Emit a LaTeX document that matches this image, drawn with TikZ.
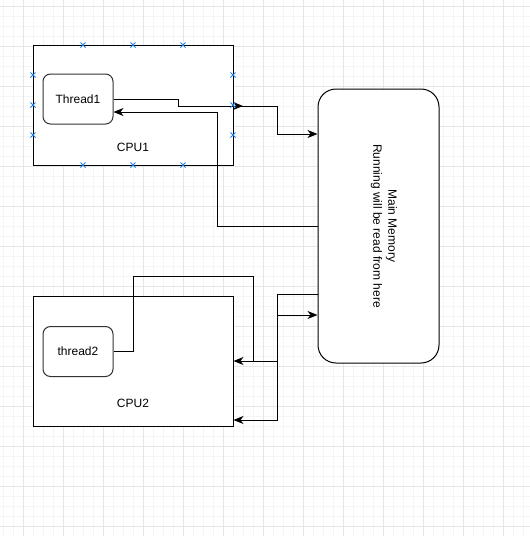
\documentclass[tikz,border=0pt]{standalone}
\usepackage{fontspec}
\setmainfont{Liberation Sans}
\usetikzlibrary{arrows.meta}
\definecolor{gridmajor}{HTML}{E6E6E6}
\definecolor{gridminor}{HTML}{F5F5F5}
\definecolor{markblue}{HTML}{1E7FE6}
\begin{document}
\begin{tikzpicture}[x=1pt,y=-1pt,
  every node/.style={font=\fontsize{12}{15}\selectfont},
  cpubox/.style={draw=black, line width=1pt, fill=white, inner sep=0pt, minimum width=200pt, minimum height=#1},
  thrbox/.style={draw=black!80, line width=1pt, fill=white, rounded corners=7.5pt, inner sep=0pt, minimum width=70pt, minimum height=50pt},
  membox/.style={draw=black, line width=1pt, fill=white, rounded corners=18pt, inner sep=0pt, minimum width=121pt, minimum height=274pt},
  lbl/.style={inner sep=0pt, text=black},
  conn/.style={draw=black, line width=1pt},
  arr/.style={conn, -{Stealth[length=10pt,width=8pt,inset=3pt]}},
  cpmark/.style={draw=markblue, line width=1pt}
]
\useasboundingbox (0,0) rectangle (530,536);
\fill[white] (0,0) rectangle (530,536);
% grid
\foreach \x in {3,13,...,523} \draw[gridminor, line width=1pt] (\x,0) -- (\x,536);
\foreach \y in {6,16,...,526} \draw[gridminor, line width=1pt] (0,\y) -- (530,\y);
\foreach \x in {23,63,...,503} \draw[gridmajor, line width=1pt] (\x,0) -- (\x,536);
\foreach \y in {6,46,...,526} \draw[gridmajor, line width=1pt] (0,\y) -- (530,\y);

% shapes
\node[cpubox=120pt] (cpu1) at (133,105) {};
\node[lbl] (cpu1lbl) at (133,147) {CPU1};
\node[thrbox] (t1) at (78,99) {Thread1};

\node[cpubox=130pt] (cpu2) at (133,361) {};
\node[lbl] (cpu2lbl) at (133,403) {CPU2};
\node[thrbox] (t2) at (78,351.5) {thread2};

\node[membox] (mem) at (378.5,226) {};
\node[lbl, rotate=-90, align=center] (memtxt) at (384,226) {Main Memory\\Running will be read from here};

% helper coordinates
\coordinate (j1) at (243,106);
\coordinate (r1) at (0,106);
\coordinate (r2) at (0,134);
\coordinate (r3) at (0,112);
\coordinate (r4) at (0,294);
\coordinate (r5) at (0,315);
\coordinate (r6) at (0,420);
\coordinate (r7) at (0,361);

% connectors
\draw[arr] (t1.east) -| (178,106) -- (j1);
\draw[arr] (cpu1.east |- r1) -- (277,106) -- (277,134) -- (mem.west |- r2);
\draw[arr] (mem.west) -- (217,226) -- (217,112) -- (t1.east |- r3);
\draw[arr] (t2.east) -- (133,351.5) -- (133,276) -- (253,276) -- (253,361) -- (cpu2.east |- r7);
\draw[arr] (mem.west |- r4) -- (277,294) -- (277,420) -- (cpu2.east |- r6);
\draw[conn] (277,361) -- (253,361);
\draw[arr] (277,315) -- (mem.west |- r5);

% connection point markers
\foreach \x/\y in {83/45,133/45,183/45,83/165,133/165,183/165,33/75,33/105,33/135,233/75,233/105,233/135}
  \draw[cpmark] (\x-2.5,\y-2.5) -- (\x+2.5,\y+2.5) (\x-2.5,\y+2.5) -- (\x+2.5,\y-2.5);
\end{tikzpicture}
\end{document}
